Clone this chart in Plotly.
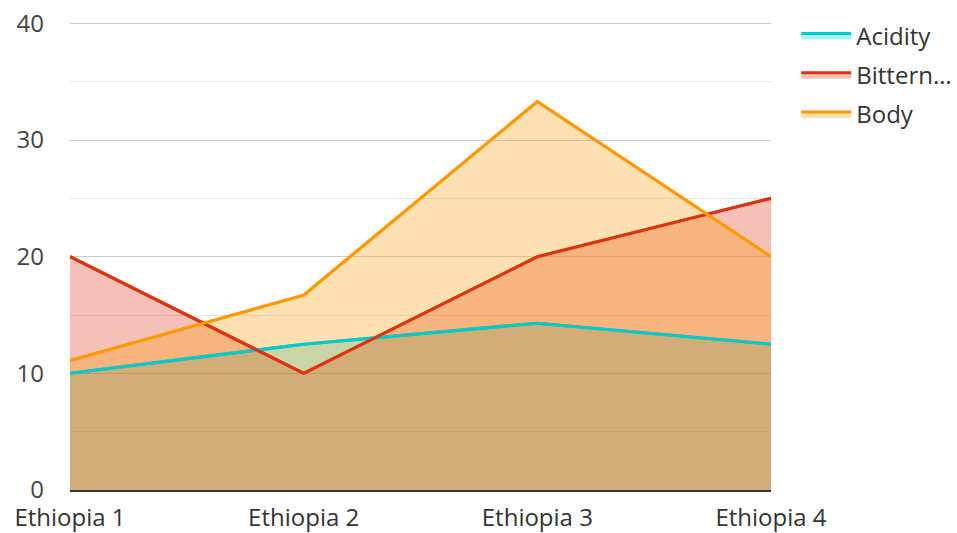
import plotly.graph_objects as go

categories = ["Ethiopia 1", "Ethiopia 2", "Ethiopia 3", "Ethiopia 4"]
acidity = [10, 12.5, 14.3, 12.5]
bitterness = [20, 10, 20, 25]
body = [11.1, 16.7, 33.3, 20]
series_names = ["Acidity", "Bittern…", "Body"]
y_ticks = [0, 10, 20, 30, 40]

colors = ["#00CCCC", "#DD3311", "#FF9900"]
fills = ["rgba(0,204,204,0.3)", "rgba(221,51,17,0.3)", "rgba(255,153,0,0.3)"]
series = [acidity, bitterness, body]

fig = go.Figure()
# filled areas (with legend entries)
for name, vals, c, f in zip(series_names, series, colors, fills):
    fig.add_trace(go.Scatter(
        x=categories, y=vals, name=name, mode="lines", legendgroup=name,
        line=dict(color=c, width=3), fill="tozeroy", fillcolor=f,
    ))
# lines on top of all fills
for name, vals, c in zip(series_names, series, colors):
    fig.add_trace(go.Scatter(
        x=categories, y=vals, name=name, mode="lines", legendgroup=name,
        line=dict(color=c, width=3), showlegend=False, hoverinfo="skip",
    ))

fig.update_layout(
    width=957, height=533,
    margin=dict(l=70, r=186, t=21, b=43, autoexpand=False),
    paper_bgcolor="white", plot_bgcolor="white",
    font=dict(family="Open Sans", size=24, color="#444444"),
    showlegend=True,
    legend=dict(x=1.036, xanchor="left", y=1.016, yanchor="top",
                itemwidth=50, tracegroupgap=5,
                font=dict(size=24, color="#333333"),
                traceorder="grouped"),
)
fig.update_xaxes(
    type="category", range=[0, 3], showgrid=False, zeroline=False,
    showline=True, linecolor="#333333", linewidth=2, ticks="",
    ticklabelstandoff=5, tickfont=dict(size=24, color="#333333"),
)
fig.update_yaxes(
    range=[0, 40.2], tickvals=y_ticks, showgrid=True, gridcolor="#cccccc", gridwidth=1,
    zeroline=False,
    minor=dict(dtick=5, showgrid=True, gridcolor="#e6e6e6", gridwidth=1),
    ticklabelstandoff=25, tickfont=dict(size=24, color="#444444"),
)
fig.write_html(
    "out.html",
    config={"displayModeBar": False},
    post_script="document.body.style.margin='0';document.body.style.overflow='hidden';",
)
